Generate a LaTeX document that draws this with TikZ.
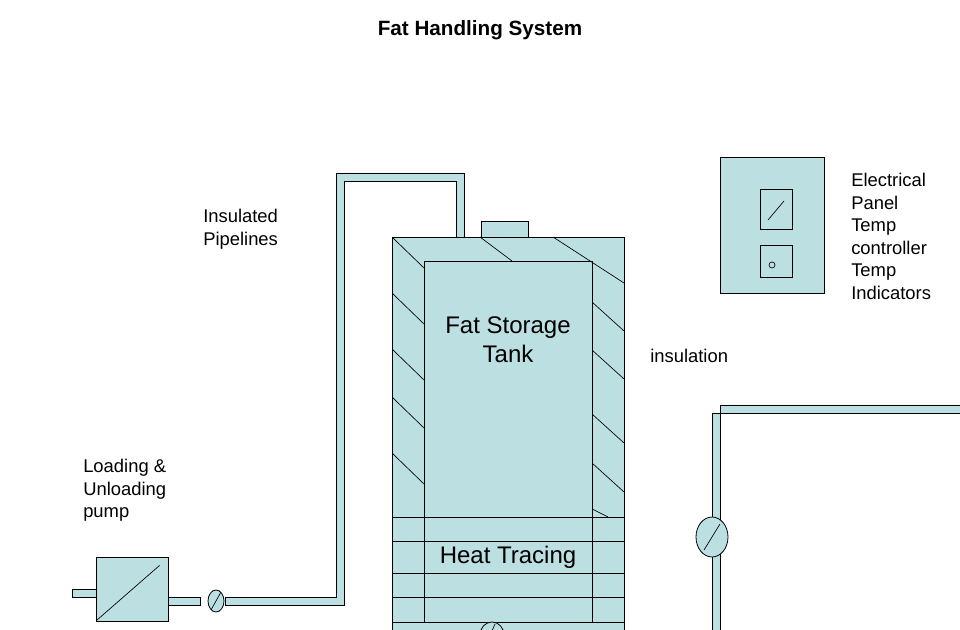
\documentclass[tikz,border=0pt]{standalone}
\usepackage{fontspec}
\usetikzlibrary{shapes.geometric}
\setmainfont{Liberation Sans}
\definecolor{fillc}{HTML}{BCDFE2}
\begin{document}
\begin{tikzpicture}[x=0.75pt,y=-0.75pt,
  part/.style={draw=black,fill=fillc,line width=0.6pt},
  thin/.style={draw=black,line width=0.5pt},
  lbl/.style={anchor=north west,align=left,font=\fontsize{13.8}{16.9}\selectfont,inner sep=0pt},
  big/.style={align=center,font=\fontsize{18}{21.5}\selectfont,inner sep=0pt}]
\useasboundingbox (0,0) rectangle (960,630);
\node[font=\bfseries\fontsize{15.5}{18}\selectfont] (title) at (480,30) {Fat Handling System};
% pipes left
\filldraw[part] (456,237) -- (456,181) -- (344,181) -- (344,605) -- (225,605) -- (225,597) -- (336,597) -- (336,173) -- (464,173) -- (464,237) -- cycle;
\filldraw[part] (168,597) rectangle (200,605);
\filldraw[part] (72,589) rectangle (96,597);
\node[part,minimum width=72*0.75pt,minimum height=64*0.75pt,inner sep=0pt] (pump) at (132,589) {};
\draw[thin] (pump.south west) ++(1,-1) -- ++(63,-55);
\node[part,ellipse,minimum width=16*0.75pt,minimum height=22*0.75pt,inner sep=0pt] (v1) at (216,601) {};
\draw[thin] (211,610) -- (221,592);
% tank
\filldraw[part] (481,221) rectangle (528,237);
\node[part,minimum width=232*0.75pt,minimum height=393*0.75pt,inner sep=0pt,anchor=north west] (tank) at (392,237) {};
\begin{scope}[thin]
\foreach \y in {237,293,349,397,453} \draw (392,\y) -- (424,\y+31);
\draw (480,237) -- (512,261);
\draw (553,237) -- (624,283);
\foreach \y in {302,350,414,463} \draw (592,\y) -- (624,\y+29);
\draw (592,509) -- (608,517);
\foreach \y in {517,541,573,597,622} \draw (392,\y) -- (624,\y);
\end{scope}
\node[draw=black,line width=0.6pt,minimum width=168*0.75pt,minimum height=361*0.75pt,inner sep=0pt,anchor=north west] (inner) at (424,261) {};
\node[big] (tanklbl) at (508,340) {Fat Storage\\Tank};
\node[big] (heat) at (508,557) {Heat Tracing};
\begin{scope}
\clip (380,600) rectangle (640,630);
\node[part,ellipse,minimum width=24*0.75pt,minimum height=26*0.75pt,inner sep=0pt] (v3) at (492,635) {};
\draw[thin] (488,640) -- (495,624);
\end{scope}
% right pipe
\filldraw[part] (712,630) -- (712,413) -- (720,413) -- (720,405) -- (960,405) -- (960,413) -- (720,413) -- (720,630) -- cycle;
\node[part,ellipse,minimum width=32*0.75pt,minimum height=40*0.75pt,inner sep=0pt] (v2) at (712,537) {};
\draw[thin] (704,550) -- (720,524);
% panel
\node[part,minimum width=104*0.75pt,minimum height=136*0.75pt,inner sep=0pt,anchor=north west] (panel) at (720,157) {};
\node[part,minimum width=32*0.75pt,minimum height=40*0.75pt,inner sep=0pt,anchor=north west] (ctrl) at (760,189) {};
\draw[thin] (768,220) -- (784,201);
\node[part,minimum width=32*0.75pt,minimum height=32*0.75pt,inner sep=0pt,anchor=north west] (ind) at (760,245) {};
\draw[thin] (772,265) circle (3);
% labels
\node[lbl] (l1) at (203,209) {Insulated\\Pipelines};
\node[lbl] (l2) at (83,459) {Loading \&\\Unloading\\pump};
\node[lbl] (l3) at (650,349) {insulation};
\node[lbl] (l4) at (851,173) {Electrical\\Panel\\Temp\\controller\\Temp\\Indicators};
\end{tikzpicture}
\end{document}
